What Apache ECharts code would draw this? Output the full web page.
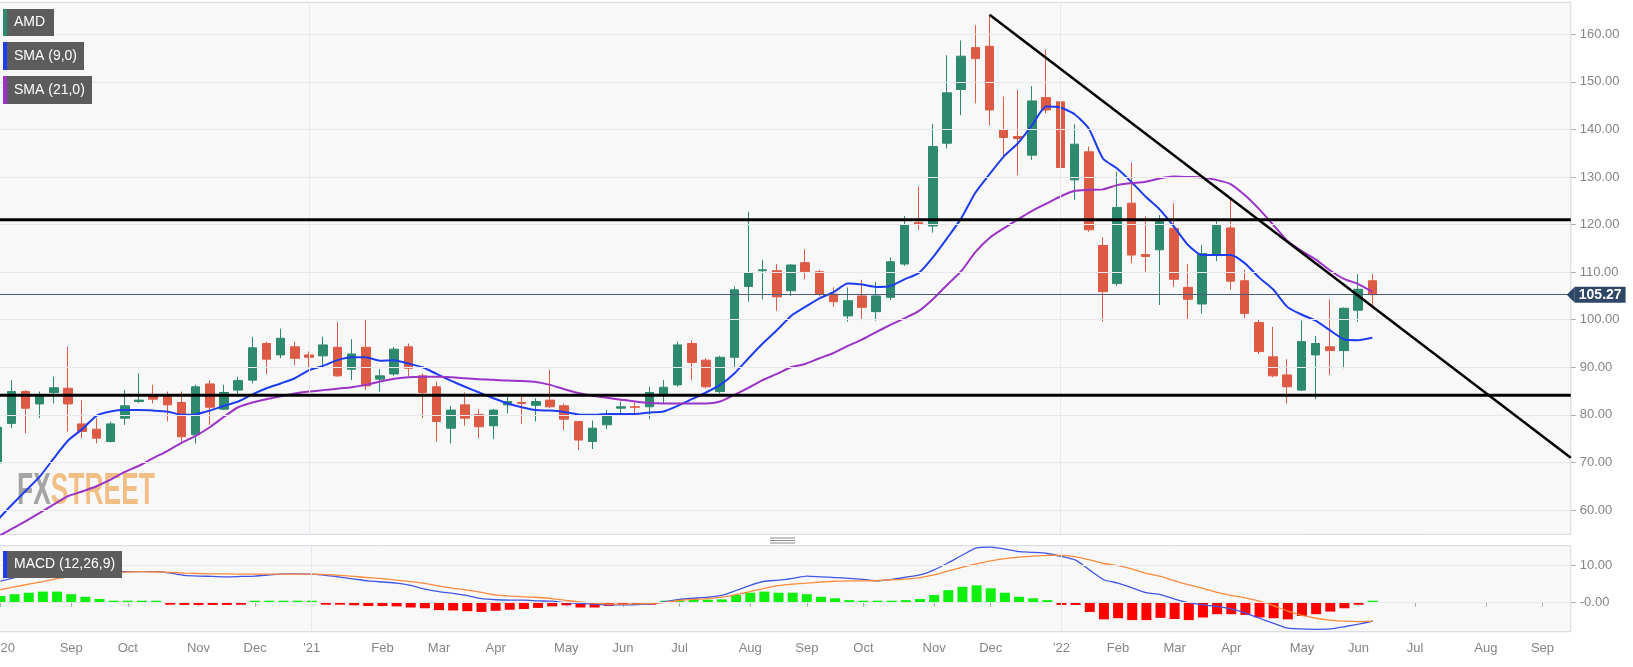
<!DOCTYPE html>
<html>
<head>
<meta charset="utf-8">
<script src="https://cdn.jsdelivr.net/npm/echarts@6/dist/echarts.min.js"></script>
<style>
html,body{margin:0;padding:0;background:#fff;overflow:hidden;width:1633px;height:667px;}
#chart{width:1650px;height:667px;margin-left:-17px;}
</style>
</head>
<body>
<div id="chart"></div>
<script>
// ---------- categories (weekly, Friday dates) ----------
const weeks = [
'2020-07-24','2020-07-31','2020-08-07','2020-08-14','2020-08-21','2020-08-28','2020-09-04','2020-09-11','2020-09-18','2020-09-25',
'2020-10-02','2020-10-09','2020-10-16','2020-10-23','2020-10-30','2020-11-06','2020-11-13','2020-11-20','2020-11-27','2020-12-04',
'2020-12-11','2020-12-18','2020-12-25',
'2021-01-01','2021-01-08','2021-01-15','2021-01-22','2021-01-29','2021-02-05','2021-02-12','2021-02-19','2021-02-26','2021-03-05',
'2021-03-12','2021-03-19','2021-03-26','2021-04-02','2021-04-09','2021-04-16','2021-04-23','2021-04-30','2021-05-07','2021-05-14',
'2021-05-21','2021-05-28','2021-06-04','2021-06-11','2021-06-18','2021-06-25','2021-07-02','2021-07-09','2021-07-16','2021-07-23',
'2021-07-30','2021-08-06','2021-08-13','2021-08-20','2021-08-27','2021-09-03','2021-09-10','2021-09-17','2021-09-24','2021-10-01',
'2021-10-08','2021-10-15','2021-10-22','2021-10-29','2021-11-05','2021-11-12','2021-11-19','2021-11-26','2021-12-03','2021-12-10',
'2021-12-17','2021-12-24','2021-12-31',
'2022-01-07','2022-01-14','2022-01-21','2022-01-28','2022-02-04','2022-02-11','2022-02-18','2022-02-25','2022-03-04','2022-03-11',
'2022-03-18','2022-03-25','2022-04-01','2022-04-08','2022-04-15','2022-04-22','2022-04-29','2022-05-06','2022-05-13','2022-05-20',
'2022-05-27','2022-06-03','2022-06-10','2022-06-17','2022-06-24','2022-07-01','2022-07-08','2022-07-15','2022-07-22','2022-07-29',
'2022-08-05','2022-08-12','2022-08-19','2022-08-26','2022-09-02','2022-09-09','2022-09-16'
];
const tickDates  = ['2020-07-31','2020-09-04','2020-10-02','2020-11-06','2020-12-04','2021-01-01','2021-02-05','2021-03-05','2021-04-02','2021-05-07','2021-06-04','2021-07-02','2021-08-06','2021-09-03','2021-10-01','2021-11-05','2021-12-03','2022-01-07','2022-02-04','2022-03-04','2022-04-01','2022-05-06','2022-06-03','2022-07-01','2022-08-05','2022-09-02'];
const tickLabels = ['2020','Sep','Oct','Nov','Dec',"'21",'Feb','Mar','Apr','May','Jun','Jul','Aug','Sep','Oct','Nov','Dec',"'22",'Feb','Mar','Apr','May','Jun','Jul','Aug','Sep'];
const yearLines = ['2021-01-01','2022-01-07'];
const yTicks = [60,70,80,90,100,110,120,130,140,150,160];
const macdTicks = [0,10];

// ---------- OHLC (weeks 2020-07-31 .. 2022-06-10) ----------
const opens = [69.9,78.2,84.9,82.3,84.7,85.6,78.1,77.0,74.4,79.3,
82.8,84.2,83.8,82.6,75.8,86.5,81.2,85.2,87.3,95.0,
92.6,94.3,92.6,92.4,94.2,89.6,94.2,87.5,88.6,94.3,
88.2,85.9,77.2,82.1,80.1,77.7,82.1,82.6,82.0,83.1,
81.9,78.6,74.4,77.9,81.4,81.7,81.7,84.4,86.3,95.0,
91.5,84.9,92.1,107.0,110.3,110.3,106.1,112.0,110.1,105.4,
100.8,105.0,101.7,104.7,111.7,120.4,119.7,137.1,148.4,157.2,
157.5,139.9,138.5,134.6,146.7,145.8,129.4,135.3,115.6,107.6,
124.5,113.7,114.7,119.2,106.8,103.3,113.8,119.3,108.2,99.4,
92.2,88.4,85.2,92.6,94.3,93.5,102.0,108.2];
const closes = [77.4,84.9,81.4,84.0,85.7,82.3,76.5,75.1,78.1,81.9,
83.1,83.3,82.1,75.4,85.9,81.6,84.7,87.2,94.1,91.7,
96.1,91.9,92.1,94.7,88.2,92.8,86.1,88.2,93.8,89.8,
84.7,78.6,81.0,79.3,77.5,81.0,82.8,82.4,82.8,81.7,
79.1,74.7,77.2,80.0,81.7,81.6,84.7,85.8,94.7,91.0,
85.9,92.1,106.3,109.9,110.5,104.8,111.5,110.1,105.4,103.8,
104.0,102.6,105.0,112.2,119.9,120.1,136.4,147.7,155.4,154.9,
144.1,138.3,138.1,146.0,144.1,132.0,136.9,118.9,105.9,123.6,
113.6,113.3,121.0,108.5,104.3,113.9,119.8,108.1,101.3,93.3,
88.2,85.9,95.4,95.0,93.5,102.4,106.4,105.27];
const lows = [68.0,77.2,76.1,79.3,82.4,76.5,75.1,74.0,74.2,77.9,
82.5,82.4,78.6,74.4,74.0,77.9,81.0,83.8,86.6,88.6,
91.9,90.5,90.0,90.5,88.0,87.3,85.2,84.9,88.2,88.0,
79.3,74.4,74.0,77.7,75.1,74.9,80.3,78.1,78.6,81.4,
76.8,72.6,72.8,77.0,80.3,80.2,79.1,82.4,85.9,87.3,
85.6,84.5,89.8,103.8,104.3,101.9,105.0,108.5,104.9,102.7,
99.6,99.9,99.8,104.1,111.3,118.9,118.3,136.0,143.0,145.5,
140.9,134.3,130.4,133.6,143.4,131.1,125.2,118.5,99.6,107.1,
111.9,110.1,103.1,106.9,100.1,101.3,112.3,106.3,100.3,92.8,
87.9,82.4,85.0,83.3,88.4,89.8,99.6,103.1];
const highs = [78.8,87.3,85.2,84.9,88.0,94.3,83.1,79.3,78.6,85.2,
88.7,86.3,84.9,84.9,86.3,87.3,86.3,88.0,96.4,95.4,
98.1,95.4,93.3,96.4,99.5,95.9,100.0,89.6,94.3,95.0,
88.7,87.0,81.9,84.7,81.2,81.2,83.8,84.2,83.5,89.4,
82.3,78.6,78.8,81.0,82.8,82.6,85.9,87.3,95.4,95.7,
91.9,92.4,107.0,122.7,112.6,111.7,111.7,114.8,110.5,106.8,
106.8,108.4,108.0,113.1,121.8,128.0,141.1,155.6,158.7,161.9,
164.1,146.9,148.3,149.1,156.7,152.5,141.1,136.4,117.3,131.1,
133.0,121.7,122.0,124.5,111.7,115.7,121.3,125.2,110.5,100.0,
98.5,91.7,99.8,96.6,104.3,102.6,109.6,109.6];

// ---------- moving averages ----------
const sma9 = [57.8,61.0,64.0,67.0,70.9,74.6,77.0,79.8,80.7,81.0,
81.0,80.9,80.7,80.0,80.1,80.9,81.9,82.8,84.3,85.6,
86.6,87.7,89.4,90.3,91.5,92.1,92.1,91.4,91.5,90.8,
90.0,88.6,87.2,85.9,84.7,83.5,82.4,81.6,81.0,80.9,
80.6,80.1,80.0,80.2,80.2,80.2,80.5,80.7,81.9,83.3,
84.7,86.3,88.7,91.9,95.0,97.8,100.8,102.7,104.5,105.8,
107.6,107.4,106.9,107.1,108.5,109.8,113.1,117.1,121.3,126.7,
130.6,134.3,137.1,140.9,144.8,144.6,143.2,140.2,133.9,131.8,
129.0,125.9,123.2,119.6,115.7,113.6,113.6,113.6,111.9,108.9,
106.4,102.7,101.1,99.8,97.8,95.9,95.7,96.2];
const sma21 = [54.3,56.0,57.6,59.4,61.2,62.9,63.9,65.0,66.4,68.0,
69.3,70.9,72.4,74.1,75.6,77.4,79.6,81.6,82.6,83.3,
83.9,84.5,84.9,85.2,85.5,85.8,86.3,87.0,87.6,87.9,
88.0,88.0,87.9,87.7,87.5,87.4,87.2,87.1,86.9,86.3,
85.4,84.6,84.0,83.6,83.2,82.8,82.5,82.4,82.4,82.4,
82.4,82.8,84.2,85.7,87.3,88.6,90.0,90.7,91.9,93.0,
94.5,95.8,97.4,98.9,100.3,101.8,104.3,107.3,110.2,114.2,
117.2,119.2,121.1,122.9,124.4,125.9,127.1,127.3,127.4,128.3,
128.7,129.0,129.7,130.1,130.0,129.9,129.4,128.5,126.2,123.3,
120.0,116.6,114.5,112.7,110.4,108.6,107.5,105.9];

// ---------- MACD (12,26,9) ----------
const macdLine = [5.8,6.8,7.6,8.1,8.4,8.5,8.5,8.5,8.4,8.4,
8.4,8.4,8.0,7.4,7.2,7.1,7.0,7.1,7.2,7.5,
7.8,7.8,7.7,7.4,6.9,6.4,5.9,5.6,5.3,4.7,
3.7,3.0,2.5,1.9,1.1,0.8,0.7,0.7,0.5,0.4,
0.0,-0.2,-0.4,-0.6,-0.6,-0.5,-0.3,0.3,0.9,1.2,
1.5,2.0,3.3,4.7,5.8,6.1,6.6,7.2,7.0,6.8,
6.6,6.3,5.9,6.3,6.9,7.5,8.9,10.8,12.9,14.8,
15.0,14.5,13.8,13.6,13.3,12.5,11.5,8.8,6.2,5.3,
4.0,2.7,2.2,1.0,0.0,-0.6,-1.0,-1.7,-2.8,-4.2,
-5.6,-6.9,-7.1,-7.2,-7.1,-6.5,-5.8,-5.0];
const signalLine = [3.5,4.3,5.0,5.7,6.5,7.2,7.6,7.9,8.1,8.3,
8.4,8.3,8.2,8.0,7.9,7.8,7.8,7.7,7.7,7.7,
7.7,7.7,7.7,7.6,7.4,7.1,6.8,6.5,6.1,5.7,
5.2,4.5,3.9,3.4,2.8,2.1,1.8,1.6,1.4,1.1,
0.6,0.2,-0.1,-0.4,-0.4,-0.3,-0.2,0.1,0.6,0.9,
1.1,1.5,2.2,3.0,3.9,4.6,5.0,5.3,5.6,5.8,
5.9,5.9,6.0,6.2,6.4,6.8,7.5,8.6,9.6,10.5,
11.3,11.9,12.3,12.6,12.8,12.8,12.4,11.6,10.6,10.0,
9.1,7.9,7.1,5.9,4.8,3.9,2.8,2.0,1.3,0.4,
-0.8,-2.3,-3.4,-4.2,-4.7,-5.0,-5.1,-5.0];
const histogram = [1.8,2.3,2.7,3.0,3.0,2.3,1.6,1.0,0.5,0.4,
0.3,0.2,-0.1,-0.6,-0.6,-0.6,-0.6,-0.4,0.1,0.2,
0.3,0.1,0.0,-0.4,-0.5,-0.7,-0.9,-0.9,-1.0,-1.3,
-1.5,-2.0,-2.1,-2.3,-2.5,-2.2,-1.9,-1.7,-1.4,-1.0,
-0.7,-1.3,-1.3,-0.9,-0.6,-0.5,-0.1,0.3,0.5,1.0,
0.8,0.9,2.1,2.7,3.0,2.7,2.7,2.3,1.6,1.2,
0.7,0.3,0.1,0.2,0.7,1.0,2.1,3.4,4.3,4.7,
3.9,2.7,1.6,1.2,0.7,-0.6,-0.6,-2.5,-4.5,-4.2,
-4.7,-4.7,-4.1,-4.4,-4.7,-4.0,-3.1,-3.1,-3.3,-4.0,
-4.2,-4.5,-3.6,-3.1,-2.4,-1.5,-0.4,0.1];

// ---------- drawn levels ----------
const resistance = 121.0;
const support = 84.1;
const lastPrice = 105.27;
const trendStart = ['2021-12-03', 164.1];
const trendEnd = ['2022-09-16', 71.0];

// ---------- build series data ----------
const candleData = ['-'].concat(opens.map((o, i) => [o, closes[i], lows[i], highs[i]]));
const pad = arr => [null].concat(arr);
const tickMap = {};
tickDates.forEach((d, i) => { tickMap[d] = tickLabels[i]; });

const UP = '#2e8a6f', DOWN = '#dd5b45';
const FONT = 'Liberation Sans, Arial, sans-serif';
const lastCat = weeks[weeks.length - 1];
const OX = 17; // chart canvas starts 17px left of the page

const chart = echarts.init(document.getElementById('chart'), null, {renderer: 'canvas'});

const option = {
  animation: false,
  backgroundColor: '#ffffff',
  grid: [
    {left: 0, right: 62.23, top: 2.3, height: 532, show: true, backgroundColor: '#f8f8f9', borderColor: '#d6d6e2', borderWidth: 1},
    {left: 0, right: 62.23, top: 545.7, height: 86, show: true, backgroundColor: '#f8f8f9', borderColor: '#d6d6e2', borderWidth: 1}
  ],
  xAxis: [
    {type: 'category', gridIndex: 0, data: weeks, boundaryGap: false,
     axisLine: {show: false}, axisTick: {show: false}, axisLabel: {show: false}, splitLine: {show: false}},
    {type: 'category', gridIndex: 1, data: weeks, boundaryGap: false,
     axisLine: {show: false},
     axisTick: {show: true, length: 4, interval: (i, v) => v in tickMap, lineStyle: {color: '#aaaaaa'}},
     axisLabel: {show: true, interval: (i, v) => v in tickMap, formatter: v => tickMap[v] || '',
                 color: '#858585', fontSize: 13, fontFamily: FONT, margin: 10},
     splitLine: {show: false}}
  ],
  yAxis: [
    {type: 'value', gridIndex: 0, position: 'right', min: 54.89, max: 166.73,
     axisLine: {show: false},
     axisTick: {show: true, length: 5, customValues: yTicks, lineStyle: {color: '#aaaaaa'}},
     axisLabel: {customValues: yTicks, formatter: v => v.toFixed(2), color: '#858585', fontSize: 13, fontFamily: FONT, margin: 9},
     splitLine: {show: false}},
    {type: 'value', gridIndex: 1, position: 'right', min: -7.84, max: 15.41,
     axisLine: {show: false},
     axisTick: {show: true, length: 5, customValues: macdTicks, lineStyle: {color: '#aaaaaa'}},
     axisLabel: {customValues: macdTicks, formatter: v => (v === 0 ? '-0.00' : v.toFixed(2)), color: '#858585', fontSize: 13, fontFamily: FONT, margin: 9},
     splitLine: {show: false}}
  ],
  series: [
    {type: 'line', xAxisIndex: 0, yAxisIndex: 0, data: [], z: 1, silent: true,
     markLine: {silent: true, symbol: ['none', 'none'], label: {show: false}, animation: false,
       lineStyle: {color: '#e7e7ec', width: 1, type: 'solid'},
       data: yTicks.map(v => ({yAxis: v})).concat(yearLines.map(d => ({xAxis: d})))}},
    {type: 'line', xAxisIndex: 1, yAxisIndex: 1, data: [], z: 1, silent: true,
     markLine: {silent: true, symbol: ['none', 'none'], label: {show: false}, animation: false,
       lineStyle: {color: '#e7e7ec', width: 1, type: 'solid'},
       data: macdTicks.map(v => ({yAxis: v})).concat(yearLines.map(d => ({xAxis: d})))}},
    {type: 'candlestick', name: 'AMD', xAxisIndex: 0, yAxisIndex: 0, data: candleData, barWidth: 9, z: 3,
     itemStyle: {color: UP, color0: DOWN, borderColor: UP, borderColor0: DOWN, borderWidth: 1},
     markLine: {silent: true, symbol: ['none', 'none'], animation: false,
       lineStyle: {color: '#4a5b7c', width: 1, type: 'solid'},
       label: {show: true, position: 'end', distance: 4, formatter: lastPrice.toFixed(2), color: '#ffffff',
               backgroundColor: '#2f4766', fontWeight: 'bold', fontSize: 14, fontFamily: FONT,
               lineHeight: 14, padding: [1, 4, 1, 4]},
       data: [{yAxis: lastPrice}]},
     markPoint: {silent: true, animation: false, symbol: 'path://M0,5 L8,0 L8,10 Z', symbolSize: [8, 16],
       itemStyle: {color: '#2f4766'}, label: {show: false},
       data: [{coord: [lastCat, lastPrice]}]}},
    {type: 'line', name: 'SMA (9,0)', xAxisIndex: 0, yAxisIndex: 0, data: pad(sma9), showSymbol: false, z: 4,
     lineStyle: {color: '#1e3cf0', width: 2}, smooth: 0.2},
    {type: 'line', name: 'SMA (21,0)', xAxisIndex: 0, yAxisIndex: 0, data: pad(sma21), showSymbol: false, z: 4,
     lineStyle: {color: '#9b33c6', width: 2}, smooth: 0.2},
    {type: 'line', xAxisIndex: 0, yAxisIndex: 0, data: [[weeks[0], resistance], [lastCat, resistance]], showSymbol: false, z: 5,
     lineStyle: {color: '#000000', width: 3}},
    {type: 'line', xAxisIndex: 0, yAxisIndex: 0, data: [[weeks[0], support], [lastCat, support]], showSymbol: false, z: 5,
     lineStyle: {color: '#000000', width: 3}},
    {type: 'line', xAxisIndex: 0, yAxisIndex: 0, data: [trendStart, trendEnd], showSymbol: false, z: 5,
     lineStyle: {color: '#000000', width: 2.5}},
    {type: 'bar', name: 'Histogram', xAxisIndex: 1, yAxisIndex: 1, data: pad(histogram), barWidth: 10, barMinHeight: 2, z: 3,
     itemStyle: {color: p => (p.value >= 0 ? '#0ff00f' : '#ff0000')}},
    {type: 'line', name: 'MACD', xAxisIndex: 1, yAxisIndex: 1, data: pad(macdLine), showSymbol: false, z: 4,
     lineStyle: {color: '#4057e6', width: 1.3}, smooth: 0.2},
    {type: 'line', name: 'Signal', xAxisIndex: 1, yAxisIndex: 1, data: pad(signalLine), showSymbol: false, z: 4,
     lineStyle: {color: '#ff8a3a', width: 1.3}, smooth: 0.2}
  ],
  graphic: [
    {type: 'text', x: OX + 17, y: 492, scaleX: 0.6, z: 2, silent: true,
     style: {text: '{a|FX}{b|STREET}', verticalAlign: 'middle', font: 'bold 44px ' + FONT,
       rich: {a: {fill: '#959595', font: 'bold 44px ' + FONT}, b: {fill: '#f0b571', font: 'bold 44px ' + FONT}},
       opacity: 0.85}},
    {type: 'rect', shape: {x: OX + 3, y: 9, width: 51, height: 27}, style: {fill: '#5c5c5c'}, z: 100},
    {type: 'rect', shape: {x: OX + 3, y: 9, width: 4, height: 27}, style: {fill: '#2e8a6f'}, z: 101},
    {type: 'text', x: OX + 14, y: 22.5, z: 101, style: {text: 'AMD', fill: '#ffffff', font: '14px ' + FONT, verticalAlign: 'middle'}},
    {type: 'rect', shape: {x: OX + 3, y: 42, width: 81, height: 28}, style: {fill: '#5c5c5c'}, z: 100},
    {type: 'rect', shape: {x: OX + 3, y: 42, width: 4, height: 28}, style: {fill: '#1e3cf0'}, z: 101},
    {type: 'text', x: OX + 14, y: 56, z: 101, style: {text: 'SMA (9,0)', fill: '#ffffff', font: '14px ' + FONT, verticalAlign: 'middle'}},
    {type: 'rect', shape: {x: OX + 3, y: 76, width: 89, height: 28}, style: {fill: '#5c5c5c'}, z: 100},
    {type: 'rect', shape: {x: OX + 3, y: 76, width: 4, height: 28}, style: {fill: '#9b33c6'}, z: 101},
    {type: 'text', x: OX + 14, y: 90, z: 101, style: {text: 'SMA (21,0)', fill: '#ffffff', font: '14px ' + FONT, verticalAlign: 'middle'}},
    {type: 'rect', shape: {x: OX + 3, y: 551, width: 119, height: 27}, style: {fill: '#5c5c5c'}, z: 100},
    {type: 'rect', shape: {x: OX + 3, y: 551, width: 4, height: 27}, style: {fill: '#1e3cf0'}, z: 101},
    {type: 'text', x: OX + 14, y: 564.5, z: 101, style: {text: 'MACD (12,26,9)', fill: '#ffffff', font: '14px ' + FONT, verticalAlign: 'middle'}},
    {type: 'line', shape: {x1: OX + 770, y1: 538, x2: OX + 795, y2: 538}, style: {stroke: '#8a8a8a', lineWidth: 1}, z: 100},
    {type: 'line', shape: {x1: OX + 770, y1: 540.5, x2: OX + 795, y2: 540.5}, style: {stroke: '#8a8a8a', lineWidth: 1}, z: 100},
    {type: 'line', shape: {x1: OX + 770, y1: 543, x2: OX + 795, y2: 543}, style: {stroke: '#8a8a8a', lineWidth: 1}, z: 100}
  ]
};
chart.setOption(option);
</script>
</body>
</html>
